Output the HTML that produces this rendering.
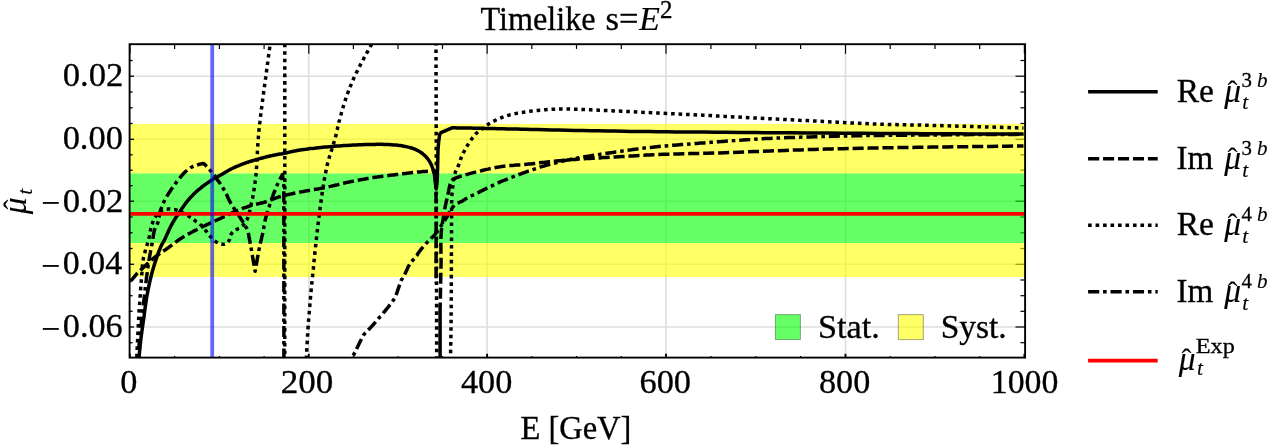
<!DOCTYPE html>
<html lang="en"><head><meta charset="utf-8"><title>Timelike s=E^2</title>
<style>html,body{margin:0;padding:0;background:#fff;}svg{display:block;}text{font-family:"Liberation Serif","DejaVu Serif",serif;fill:#000;}.i{font-style:italic;}text{stroke:#000;stroke-width:0.32px;}.i{stroke-width:0.12px;}.h{stroke:none;}</style></head><body>
<svg width="1270" height="448" viewBox="0 0 1270 448">
<rect width="1270" height="448" fill="#fff"/>
<defs><clipPath id="cp"><rect x="129.6" y="44.2" width="895.5" height="313.4"/></clipPath></defs>
<g stroke="#dedede" stroke-width="1.6" fill="none">
<line x1="308.8" y1="44.2" x2="308.8" y2="357.6"/>
<line x1="487.1" y1="44.2" x2="487.1" y2="357.6"/>
<line x1="666.0" y1="44.2" x2="666.0" y2="357.6"/>
<line x1="845.5" y1="44.2" x2="845.5" y2="357.6"/>
<line x1="129.6" y1="76.2" x2="1025.1" y2="76.2"/>
<line x1="129.6" y1="139.3" x2="1025.1" y2="139.3"/>
<line x1="129.6" y1="201.2" x2="1025.1" y2="201.2"/>
<line x1="129.6" y1="264.3" x2="1025.1" y2="264.3"/>
<line x1="129.6" y1="327.0" x2="1025.1" y2="327.0"/>
</g>
<g stroke="#000" stroke-width="1.2" fill="none">
<line x1="129.9" y1="44.2" x2="129.9" y2="53.8"/>
<line x1="129.9" y1="357.6" x2="129.9" y2="353.8" stroke-width="1.9"/>
<line x1="174.6" y1="44.2" x2="174.6" y2="48.9"/>
<line x1="174.6" y1="357.6" x2="174.6" y2="356.0"/>
<line x1="219.4" y1="44.2" x2="219.4" y2="48.9"/>
<line x1="219.4" y1="357.6" x2="219.4" y2="356.0"/>
<line x1="264.1" y1="44.2" x2="264.1" y2="48.9"/>
<line x1="264.1" y1="357.6" x2="264.1" y2="356.0"/>
<line x1="308.8" y1="44.2" x2="308.8" y2="53.8"/>
<line x1="308.8" y1="357.6" x2="308.8" y2="353.8" stroke-width="1.9"/>
<line x1="353.4" y1="44.2" x2="353.4" y2="48.9"/>
<line x1="353.4" y1="357.6" x2="353.4" y2="356.0"/>
<line x1="398.0" y1="44.2" x2="398.0" y2="48.9"/>
<line x1="398.0" y1="357.6" x2="398.0" y2="356.0"/>
<line x1="442.5" y1="44.2" x2="442.5" y2="48.9"/>
<line x1="442.5" y1="357.6" x2="442.5" y2="356.0"/>
<line x1="487.1" y1="44.2" x2="487.1" y2="53.8"/>
<line x1="487.1" y1="357.6" x2="487.1" y2="353.8" stroke-width="1.9"/>
<line x1="531.8" y1="44.2" x2="531.8" y2="48.9"/>
<line x1="531.8" y1="357.6" x2="531.8" y2="356.0"/>
<line x1="576.5" y1="44.2" x2="576.5" y2="48.9"/>
<line x1="576.5" y1="357.6" x2="576.5" y2="356.0"/>
<line x1="621.3" y1="44.2" x2="621.3" y2="48.9"/>
<line x1="621.3" y1="357.6" x2="621.3" y2="356.0"/>
<line x1="666.0" y1="44.2" x2="666.0" y2="53.8"/>
<line x1="666.0" y1="357.6" x2="666.0" y2="353.8" stroke-width="1.9"/>
<line x1="710.9" y1="44.2" x2="710.9" y2="48.9"/>
<line x1="710.9" y1="357.6" x2="710.9" y2="356.0"/>
<line x1="755.8" y1="44.2" x2="755.8" y2="48.9"/>
<line x1="755.8" y1="357.6" x2="755.8" y2="356.0"/>
<line x1="800.6" y1="44.2" x2="800.6" y2="48.9"/>
<line x1="800.6" y1="357.6" x2="800.6" y2="356.0"/>
<line x1="845.5" y1="44.2" x2="845.5" y2="53.8"/>
<line x1="845.5" y1="357.6" x2="845.5" y2="353.8" stroke-width="1.9"/>
<line x1="890.2" y1="44.2" x2="890.2" y2="48.9"/>
<line x1="890.2" y1="357.6" x2="890.2" y2="356.0"/>
<line x1="935.0" y1="44.2" x2="935.0" y2="48.9"/>
<line x1="935.0" y1="357.6" x2="935.0" y2="356.0"/>
<line x1="979.7" y1="44.2" x2="979.7" y2="48.9"/>
<line x1="979.7" y1="357.6" x2="979.7" y2="356.0"/>
<line x1="1024.4" y1="44.2" x2="1024.4" y2="53.8"/>
<line x1="1024.4" y1="357.6" x2="1024.4" y2="353.8" stroke-width="1.9"/>
<line x1="1025.1" y1="342.7" x2="1020.4" y2="342.7"/>
<line x1="1025.1" y1="327.0" x2="1015.5" y2="327.0"/>
<line x1="1025.1" y1="311.3" x2="1020.4" y2="311.3"/>
<line x1="1025.1" y1="295.7" x2="1020.4" y2="295.7"/>
<line x1="1025.1" y1="280.0" x2="1020.4" y2="280.0"/>
<line x1="1025.1" y1="264.3" x2="1015.5" y2="264.3"/>
<line x1="1025.1" y1="248.5" x2="1020.4" y2="248.5"/>
<line x1="1025.1" y1="232.8" x2="1020.4" y2="232.8"/>
<line x1="1025.1" y1="217.0" x2="1020.4" y2="217.0"/>
<line x1="1025.1" y1="201.2" x2="1015.5" y2="201.2"/>
<line x1="1025.1" y1="185.7" x2="1020.4" y2="185.7"/>
<line x1="1025.1" y1="170.2" x2="1020.4" y2="170.2"/>
<line x1="1025.1" y1="154.8" x2="1020.4" y2="154.8"/>
<line x1="1025.1" y1="139.3" x2="1015.5" y2="139.3"/>
<line x1="1025.1" y1="123.5" x2="1020.4" y2="123.5"/>
<line x1="1025.1" y1="107.8" x2="1020.4" y2="107.8"/>
<line x1="1025.1" y1="92.0" x2="1020.4" y2="92.0"/>
<line x1="1025.1" y1="76.2" x2="1015.5" y2="76.2"/>
<line x1="1025.1" y1="60.5" x2="1020.4" y2="60.5"/>
</g>
<g clip-path="url(#cp)">
<rect x="129.6" y="123.9" width="895.5" height="49.6" fill="#ffff00" fill-opacity="0.6"/>
<rect x="129.6" y="243.0" width="895.5" height="34.0" fill="#ffff00" fill-opacity="0.6"/>
<rect x="129.6" y="173.5" width="895.5" height="69.5" fill="#00ff00" fill-opacity="0.6"/>
<g fill="none" stroke="#000" stroke-width="3.5" stroke-linejoin="round">
<path d="M137.8 357.5 L138.1 354.4 L138.4 351.3 L138.8 348.2 L139.1 345.1 L139.4 342.0 L139.7 338.9 L140.0 335.8 L140.3 332.7 L140.7 329.6 L141.0 326.4 L141.3 323.2 L141.7 320.0 L142.1 316.4 L142.5 312.5 L143.0 308.6 L143.4 304.6 L143.9 300.5 L144.3 296.5 L144.8 292.5 L145.2 288.7 L145.6 285.1 L146.1 281.6 L146.4 278.5 L146.8 275.6 L147.0 274.1 L147.2 272.8 L147.3 271.5 L147.5 270.3 L147.6 269.2 L147.8 268.1 L147.9 267.1 L148.1 266.0 L148.2 264.9 L148.4 263.8 L148.6 262.6 L148.8 261.3 L149.1 259.6 L149.4 257.9 L149.7 256.1 L150.0 254.2 L150.4 252.3 L150.7 250.4 L151.1 248.5 L151.5 246.7 L151.8 244.9 L152.1 243.1 L152.4 241.5 L152.7 240.0 L152.9 239.0 L153.0 238.1 L153.1 237.2 L153.3 236.3 L153.4 235.5 L153.5 234.7 L153.6 233.9 L153.8 233.1 L153.9 232.3 L154.1 231.5 L154.3 230.8 L154.5 230.0 L154.7 229.3 L155.0 228.7 L155.3 228.0 L155.6 227.4 L155.9 226.8 L156.2 226.2 L156.5 225.6 L156.9 225.0 L157.2 224.3 L157.5 223.7 L157.7 223.0 L158.0 222.3 L158.3 221.4 L158.5 220.4 L158.8 219.4 L159.0 218.3 L159.2 217.2 L159.3 216.1 L159.5 215.0 L159.7 214.0 L159.9 212.9 L160.2 211.8 L160.4 210.8 L160.7 209.8 L161.0 208.9 L161.3 208.1 L161.6 207.2 L161.9 206.4 L162.2 205.6 L162.6 204.8 L162.9 204.0 L163.3 203.2 L163.6 202.4 L164.0 201.6 L164.4 200.8 L164.8 200.0 L165.2 199.2 L165.7 198.3 L166.1 197.5 L166.6 196.7 L167.1 195.9 L167.6 195.1 L168.1 194.3 L168.6 193.5 L169.1 192.7 L169.7 191.9 L170.2 191.1 L170.7 190.3 L171.2 189.5 L171.7 188.8 L172.2 188.0 L172.7 187.3 L173.2 186.6 L173.8 185.8 L174.3 185.1 L174.8 184.4 L175.3 183.7 L175.9 182.9 L176.4 182.2 L177.0 181.5 L177.6 180.7 L178.2 180.0 L178.8 179.2 L179.5 178.4 L180.1 177.6 L180.7 176.8 L181.4 176.0 L182.0 175.3 L182.7 174.5 L183.3 173.8 L184.0 173.1 L184.6 172.5 L185.1 172.0 L185.6 171.5 L186.2 171.0 L186.7 170.6 L187.2 170.2 L187.7 169.7 L188.3 169.3 L188.8 168.9 L189.3 168.6 L189.9 168.2 L190.4 167.8 L191.0 167.5 L191.6 167.2 L192.2 166.9 L192.8 166.6 L193.4 166.3 L194.1 166.1 L194.7 165.8 L195.4 165.6 L196.0 165.4 L196.6 165.2 L197.2 165.0 L197.8 164.8 L198.4 164.6 L198.8 164.5 L199.3 164.3 L199.7 164.2 L200.1 164.1 L200.5 164.0 L200.9 163.9 L201.2 163.9 L201.6 163.8 L202.0 163.7 L202.4 163.6 L202.8 163.5 L203.2 163.4 L203.2 163.4 L203.3 163.5 L203.5 163.6 L203.6 163.7 L203.8 163.8 L203.9 163.9 L204.1 164.0 L204.2 164.1 L204.3 164.2 L204.5 164.3 L204.7 164.4 L204.8 164.5 L205.0 164.7 L205.3 165.0 L205.7 165.4 L206.1 165.8 L206.5 166.2 L206.9 166.6 L207.4 167.1 L207.8 167.6 L208.3 168.1 L208.8 168.6 L209.3 169.2 L209.7 169.7 L210.2 170.3 L210.9 171.1 L211.6 172.0 L212.3 172.9 L213.0 173.8 L213.8 174.8 L214.6 175.8 L215.3 176.8 L216.1 177.9 L216.8 178.9 L217.5 179.9 L218.2 180.9 L218.9 181.8 L219.5 182.6 L220.0 183.4 L220.5 184.2 L221.1 185.0 L221.6 185.8 L222.1 186.6 L222.6 187.4 L223.1 188.2 L223.6 189.0 L224.0 189.8 L224.5 190.6 L225.0 191.5 L225.5 192.5 L226.0 193.4 L226.5 194.4 L227.0 195.4 L227.4 196.5 L227.9 197.5 L228.4 198.5 L228.9 199.6 L229.4 200.6 L229.9 201.6 L230.4 202.7 L231.0 203.7 L231.7 204.8 L232.3 205.9 L233.1 207.0 L233.8 208.1 L234.6 209.2 L235.3 210.3 L236.1 211.4 L236.9 212.6 L237.6 213.7 L238.4 214.8 L239.1 215.9 L239.8 217.0 L240.5 218.1 L241.2 219.2 L241.9 220.3 L242.6 221.4 L243.3 222.5 L243.9 223.6 L244.6 224.6 L245.2 225.7 L245.8 226.8 L246.4 227.9 L246.9 228.9 L247.3 230.0 L247.6 230.8 L247.9 231.7 L248.1 232.4 L248.3 233.2 L248.5 234.0 L248.6 234.7 L248.8 235.5 L248.9 236.3 L249.1 237.2 L249.2 238.1 L249.4 239.1 L249.6 240.1 L250.0 242.1 L250.4 244.3 L250.8 246.7 L251.3 249.2 L251.8 251.9 L252.2 254.6 L252.7 257.4 L253.2 260.3 L253.7 263.1 L254.2 265.9 L254.6 268.6 L255.1 271.3 L255.1 271.3 L255.5 269.2 L255.8 267.2 L256.2 265.1 L256.6 263.0 L257.0 260.9 L257.3 258.8 L257.7 256.7 L258.1 254.6 L258.5 252.6 L258.8 250.6 L259.2 248.7 L259.6 246.8 L259.9 245.3 L260.2 243.8 L260.6 242.3 L260.9 240.8 L261.3 239.4 L261.6 237.9 L261.9 236.5 L262.3 235.2 L262.6 233.8 L262.9 232.5 L263.1 231.2 L263.4 230.0 L263.6 229.1 L263.7 228.2 L263.9 227.4 L264.0 226.6 L264.1 225.8 L264.3 225.0 L264.4 224.2 L264.5 223.4 L264.7 222.6 L264.8 221.8 L265.0 220.9 L265.2 220.0 L265.5 218.8 L265.8 217.5 L266.2 216.2 L266.6 214.9 L267.0 213.5 L267.4 212.1 L267.8 210.7 L268.3 209.3 L268.7 207.9 L269.2 206.5 L269.6 205.1 L270.1 203.7 L270.6 202.2 L271.1 200.7 L271.7 199.2 L272.2 197.6 L272.8 196.1 L273.3 194.5 L273.9 193.0 L274.5 191.5 L275.1 190.0 L275.7 188.5 L276.2 187.1 L276.8 185.8 L277.3 184.8 L277.7 183.8 L278.2 182.8 L278.7 181.8 L279.1 180.9 L279.6 180.0 L280.1 179.1 L280.5 178.2 L281.0 177.3 L281.5 176.4 L281.9 175.5 L282.4 174.6 L282.4 174.6 L283.8 185.0 L283.9 359.0 L351.8 359.0 L351.8 358.5 L363.3 335.2 L363.3 335.2 L364.1 334.4 L364.8 333.6 L365.6 332.8 L366.4 332.0 L367.2 331.2 L367.9 330.3 L368.7 329.5 L369.5 328.7 L370.2 327.9 L371.0 327.2 L371.7 326.4 L372.4 325.6 L373.0 324.9 L373.6 324.3 L374.2 323.6 L374.7 323.0 L375.3 322.3 L375.8 321.7 L376.4 321.0 L376.9 320.4 L377.5 319.7 L378.0 319.1 L378.5 318.4 L379.1 317.8 L379.7 317.2 L380.2 316.5 L380.8 315.9 L381.3 315.3 L381.9 314.6 L382.4 314.0 L383.0 313.4 L383.5 312.7 L384.1 312.1 L384.7 311.4 L385.2 310.7 L385.8 310.0 L386.5 309.1 L387.3 308.2 L388.0 307.3 L388.8 306.3 L389.5 305.4 L390.3 304.4 L391.1 303.4 L391.8 302.4 L392.6 301.3 L393.3 300.2 L394.0 299.1 L394.6 298.0 L395.3 296.6 L395.9 295.1 L396.6 293.6 L397.2 291.9 L397.8 290.2 L398.3 288.6 L398.9 286.9 L399.4 285.3 L399.9 283.9 L400.4 282.5 L400.8 281.3 L401.3 280.3 L401.5 279.9 L401.7 279.5 L401.9 279.2 L402.1 278.9 L402.3 278.7 L402.5 278.4 L402.7 278.1 L402.8 277.9 L403.0 277.6 L403.2 277.3 L403.4 277.0 L403.6 276.7 L403.9 276.2 L404.2 275.6 L404.4 275.1 L404.7 274.4 L405.0 273.8 L405.3 273.2 L405.6 272.5 L405.9 271.9 L406.2 271.3 L406.5 270.7 L406.7 270.1 L407.0 269.5 L407.2 269.0 L407.4 268.6 L407.6 268.2 L407.8 267.7 L408.0 267.3 L408.2 266.9 L408.4 266.5 L408.6 266.1 L408.8 265.7 L409.0 265.3 L409.3 264.9 L409.5 264.5 L409.8 264.1 L410.0 263.7 L410.3 263.3 L410.6 262.9 L410.9 262.5 L411.2 262.2 L411.5 261.8 L411.8 261.4 L412.1 261.1 L412.4 260.7 L412.7 260.3 L413.0 260.0 L413.3 259.7 L413.5 259.4 L413.8 259.1 L414.0 258.9 L414.3 258.6 L414.5 258.3 L414.8 258.1 L415.0 257.8 L415.3 257.5 L415.5 257.2 L415.8 256.9 L416.0 256.6 L416.3 256.2 L416.5 255.8 L416.8 255.5 L417.1 255.1 L417.3 254.6 L417.6 254.2 L417.8 253.8 L418.1 253.4 L418.4 252.9 L418.7 252.5 L419.0 252.1 L419.3 251.6 L419.8 251.0 L420.3 250.3 L420.8 249.7 L421.4 249.0 L421.9 248.3 L422.5 247.6 L423.1 246.9 L423.7 246.2 L424.3 245.5 L424.9 244.8 L425.5 244.2 L426.0 243.6 L426.4 243.1 L426.9 242.7 L427.3 242.2 L427.7 241.8 L428.2 241.3 L428.6 240.9 L429.0 240.5 L429.4 240.1 L429.8 239.7 L430.2 239.3 L430.6 238.9 L431.0 238.5 L431.3 238.2 L431.7 237.8 L432.0 237.5 L432.3 237.2 L432.6 236.9 L433.0 236.6 L433.3 236.3 L433.6 236.0 L433.9 235.7 L434.2 235.4 L434.5 235.0 L434.8 234.7 L435.1 234.3 L435.4 233.9 L435.7 233.5 L436.0 233.1 L436.3 232.7 L436.6 232.3 L436.9 231.9 L437.3 231.5 L437.6 231.0 L437.9 230.5 L438.2 230.0 L438.6 229.5 L439.2 228.6 L439.8 227.7 L440.5 226.7 L441.3 225.6 L442.0 224.5 L442.8 223.4 L443.5 222.2 L444.3 221.1 L445.0 220.0 L445.7 218.9 L446.4 217.8 L447.0 216.8 L447.5 216.0 L447.9 215.2 L448.3 214.4 L448.8 213.6 L449.1 212.8 L449.5 212.0 L449.9 211.3 L450.3 210.5 L450.7 209.8 L451.1 209.1 L451.6 208.5 L452.0 207.9 L452.4 207.5 L452.7 207.0 L453.1 206.6 L453.5 206.3 L453.9 205.9 L454.3 205.5 L454.6 205.2 L455.0 204.9 L455.5 204.6 L455.9 204.3 L456.3 204.0 L456.7 203.7 L457.1 203.4 L457.5 203.2 L458.0 203.0 L458.4 202.8 L458.9 202.6 L459.3 202.4 L459.8 202.2 L460.3 202.0 L460.7 201.8 L461.1 201.6 L461.6 201.4 L462.0 201.2 L462.4 201.0 L462.7 200.8 L463.1 200.6 L463.4 200.4 L463.7 200.2 L464.0 199.9 L464.3 199.7 L464.7 199.5 L465.0 199.3 L465.4 199.0 L465.8 198.8 L466.3 198.5 L467.2 198.0 L468.3 197.4 L469.5 196.8 L470.7 196.2 L472.0 195.5 L473.4 194.9 L474.8 194.2 L476.2 193.5 L477.6 192.8 L479.1 192.1 L480.5 191.4 L481.9 190.7 L483.5 189.9 L485.1 189.1 L486.7 188.3 L488.4 187.5 L490.1 186.7 L491.8 185.9 L493.5 185.1 L495.2 184.3 L496.9 183.5 L498.6 182.7 L500.3 181.9 L502.0 181.2 L503.7 180.5 L505.4 179.8 L507.1 179.1 L508.8 178.4 L510.5 177.7 L512.2 177.1 L514.0 176.4 L515.6 175.8 L517.3 175.1 L518.9 174.5 L520.5 174.0 L522.0 173.4 L523.2 173.0 L524.3 172.6 L525.4 172.2 L526.5 171.8 L527.6 171.4 L528.7 171.0 L529.7 170.7 L530.8 170.3 L531.8 170.0 L532.9 169.6 L533.9 169.3 L535.0 168.9 L536.0 168.6 L537.0 168.2 L538.0 167.9 L539.0 167.6 L540.0 167.2 L540.9 166.9 L541.9 166.6 L542.9 166.3 L544.0 166.0 L545.0 165.7 L546.1 165.3 L547.3 165.0 L548.9 164.6 L550.6 164.1 L552.4 163.6 L554.2 163.2 L556.1 162.7 L558.0 162.2 L560.0 161.8 L561.9 161.3 L563.9 160.9 L565.8 160.4 L567.7 160.0 L569.6 159.6 L571.5 159.2 L573.3 158.8 L575.2 158.5 L577.1 158.1 L578.9 157.8 L580.8 157.5 L582.7 157.2 L584.5 156.8 L586.4 156.5 L588.3 156.2 L590.1 155.9 L592.0 155.6 L593.9 155.3 L595.7 155.0 L597.6 154.7 L599.5 154.4 L601.3 154.1 L603.2 153.8 L605.1 153.6 L606.9 153.3 L608.8 153.0 L610.6 152.7 L612.5 152.5 L614.3 152.2 L616.0 151.9 L617.8 151.7 L619.5 151.4 L621.2 151.2 L622.9 150.9 L624.6 150.7 L626.3 150.4 L628.0 150.2 L629.7 149.9 L631.5 149.7 L633.2 149.4 L635.0 149.2 L636.9 149.0 L638.8 148.7 L640.7 148.5 L642.6 148.3 L644.5 148.0 L646.4 147.8 L648.4 147.6 L650.4 147.4 L652.4 147.2 L654.5 146.9 L656.7 146.7 L659.0 146.5 L662.3 146.2 L665.8 145.9 L669.6 145.6 L673.4 145.2 L677.4 144.9 L681.5 144.6 L685.5 144.3 L689.4 144.0 L693.3 143.7 L696.9 143.4 L700.4 143.1 L703.6 142.9 L705.6 142.7 L707.5 142.6 L709.3 142.5 L711.0 142.3 L712.7 142.2 L714.3 142.1 L715.9 142.0 L717.6 141.8 L719.3 141.7 L721.1 141.6 L723.0 141.4 L725.0 141.3 L728.1 141.1 L731.5 140.8 L735.0 140.6 L738.7 140.3 L742.4 140.1 L746.3 139.8 L750.2 139.6 L754.1 139.3 L758.1 139.0 L762.0 138.8 L765.8 138.6 L769.6 138.4 L773.3 138.2 L777.0 138.1 L780.8 137.9 L784.5 137.8 L788.2 137.6 L791.9 137.5 L795.7 137.4 L799.4 137.2 L803.1 137.1 L806.8 137.0 L810.6 136.9 L814.3 136.8 L818.0 136.7 L821.6 136.6 L825.3 136.5 L828.9 136.4 L832.5 136.3 L836.1 136.2 L839.8 136.1 L843.5 136.0 L847.2 135.9 L851.0 135.9 L855.0 135.8 L859.0 135.7 L864.0 135.6 L869.1 135.5 L874.3 135.5 L879.6 135.4 L884.9 135.4 L890.4 135.3 L895.9 135.2 L901.5 135.2 L907.3 135.2 L913.1 135.1 L919.0 135.1 L925.0 135.0 L932.5 134.9 L940.3 134.9 L948.2 134.8 L956.4 134.8 L964.6 134.7 L973.0 134.6 L981.5 134.6 L989.9 134.5 L998.4 134.5 L1006.9 134.4 L1015.2 134.4 L1023.5 134.3" stroke-dasharray="3.6 3.88 11.1 3.85"/>
<path d="M136.8 357.5 L136.9 354.4 L137.1 351.2 L137.2 348.0 L137.4 344.8 L137.5 341.6 L137.7 338.4 L137.8 335.2 L138.0 332.0 L138.1 328.9 L138.3 325.9 L138.4 322.9 L138.6 320.0 L138.7 317.6 L138.9 315.2 L139.0 312.8 L139.2 310.5 L139.3 308.1 L139.5 305.9 L139.7 303.6 L139.8 301.4 L140.0 299.2 L140.1 297.1 L140.3 295.0 L140.4 293.0 L140.5 291.4 L140.6 289.9 L140.7 288.3 L140.8 286.9 L140.9 285.4 L141.1 284.0 L141.2 282.5 L141.3 281.1 L141.4 279.7 L141.5 278.4 L141.6 277.0 L141.7 275.6 L141.8 274.4 L141.9 273.1 L142.0 271.9 L142.0 270.7 L142.1 269.4 L142.2 268.2 L142.3 267.1 L142.4 265.9 L142.5 264.7 L142.6 263.6 L142.7 262.4 L142.9 261.3 L143.1 260.3 L143.2 259.3 L143.4 258.4 L143.6 257.4 L143.9 256.4 L144.1 255.5 L144.3 254.6 L144.5 253.7 L144.8 252.7 L145.0 251.8 L145.3 250.9 L145.5 250.0 L145.7 249.1 L146.0 248.3 L146.2 247.5 L146.5 246.7 L146.7 245.9 L147.0 245.1 L147.3 244.3 L147.5 243.4 L147.8 242.6 L148.0 241.8 L148.3 240.9 L148.5 240.0 L148.8 238.9 L149.0 237.8 L149.3 236.6 L149.5 235.4 L149.7 234.2 L149.9 232.9 L150.2 231.7 L150.4 230.5 L150.7 229.3 L150.9 228.1 L151.2 227.0 L151.5 226.0 L151.8 225.2 L152.0 224.4 L152.3 223.7 L152.5 222.9 L152.8 222.2 L153.1 221.5 L153.4 220.8 L153.6 220.1 L154.0 219.4 L154.3 218.8 L154.6 218.1 L155.0 217.5 L155.4 216.9 L155.7 216.4 L156.1 215.8 L156.5 215.2 L156.9 214.7 L157.3 214.2 L157.7 213.6 L158.1 213.2 L158.6 212.7 L159.0 212.3 L159.5 211.9 L160.0 211.5 L160.5 211.2 L160.9 210.9 L161.4 210.7 L161.9 210.5 L162.4 210.3 L162.9 210.1 L163.4 209.9 L163.9 209.8 L164.5 209.6 L165.0 209.5 L165.5 209.4 L166.0 209.3 L166.5 209.2 L167.0 209.2 L167.5 209.1 L168.0 209.1 L168.5 209.1 L169.0 209.1 L169.5 209.1 L170.0 209.1 L170.5 209.2 L171.0 209.2 L171.5 209.3 L172.0 209.3 L172.5 209.4 L173.0 209.4 L173.5 209.5 L174.0 209.6 L174.5 209.6 L175.0 209.7 L175.5 209.8 L176.0 209.9 L176.5 210.1 L177.0 210.2 L177.5 210.3 L178.0 210.5 L178.5 210.7 L179.0 210.9 L179.5 211.1 L180.0 211.4 L180.5 211.6 L181.0 211.9 L181.5 212.1 L182.0 212.4 L182.5 212.7 L183.0 213.0 L183.5 213.2 L184.0 213.5 L184.5 213.7 L184.9 214.0 L185.3 214.2 L185.8 214.5 L186.2 214.7 L186.7 214.9 L187.1 215.2 L187.5 215.4 L188.0 215.7 L188.4 215.9 L188.9 216.2 L189.3 216.5 L189.8 216.8 L190.3 217.2 L190.8 217.5 L191.3 217.9 L191.9 218.3 L192.4 218.7 L192.9 219.0 L193.4 219.4 L193.9 219.8 L194.5 220.2 L195.0 220.6 L195.5 221.0 L196.0 221.4 L196.5 221.8 L197.1 222.1 L197.6 222.5 L198.1 222.9 L198.6 223.3 L199.2 223.6 L199.7 224.0 L200.2 224.5 L200.7 224.9 L201.3 225.4 L201.8 225.9 L202.5 226.6 L203.3 227.5 L204.0 228.4 L204.7 229.3 L205.5 230.3 L206.3 231.3 L207.0 232.3 L207.7 233.3 L208.5 234.3 L209.2 235.2 L209.9 236.0 L210.6 236.8 L211.1 237.3 L211.6 237.8 L212.0 238.3 L212.5 238.8 L212.9 239.2 L213.4 239.7 L213.8 240.1 L214.3 240.5 L214.7 240.9 L215.2 241.2 L215.7 241.6 L216.2 241.9 L216.7 242.2 L217.2 242.5 L217.7 242.7 L218.3 243.0 L218.8 243.2 L219.4 243.4 L219.9 243.6 L220.4 243.8 L221.0 243.9 L221.5 244.1 L222.0 244.1 L222.5 244.2 L222.9 244.2 L223.3 244.2 L223.7 244.2 L224.1 244.2 L224.4 244.2 L224.8 244.1 L225.2 244.0 L225.5 244.0 L225.9 243.8 L226.2 243.7 L226.5 243.6 L226.8 243.4 L227.1 243.2 L227.3 243.0 L227.6 242.8 L227.8 242.5 L228.0 242.2 L228.2 241.9 L228.4 241.6 L228.6 241.3 L228.8 241.0 L229.0 240.7 L229.1 240.3 L229.3 240.0 L229.5 239.6 L229.6 239.2 L229.7 238.8 L229.8 238.4 L229.8 238.0 L229.9 237.5 L230.0 237.1 L230.0 236.6 L230.1 236.2 L230.3 235.8 L230.4 235.4 L230.6 235.0 L230.8 234.6 L231.1 234.2 L231.4 233.8 L231.7 233.4 L232.0 233.1 L232.3 232.7 L232.7 232.4 L233.1 232.0 L233.4 231.7 L233.8 231.3 L234.2 231.0 L234.6 230.7 L235.0 230.4 L235.5 230.1 L236.0 229.8 L236.5 229.5 L237.1 229.3 L237.6 229.1 L238.1 228.8 L238.7 228.5 L239.2 228.3 L239.7 228.0 L240.2 227.7 L240.7 227.3 L241.2 226.9 L241.7 226.4 L242.2 226.0 L242.8 225.5 L243.3 224.9 L243.7 224.4 L244.2 223.9 L244.7 223.3 L245.1 222.8 L245.5 222.2 L245.9 221.6 L246.3 221.0 L246.6 220.4 L247.0 219.8 L247.2 219.1 L247.5 218.5 L247.8 217.8 L248.0 217.1 L248.2 216.4 L248.4 215.7 L248.6 215.0 L248.8 214.4 L249.0 213.7 L249.2 213.0 L249.4 212.3 L249.6 211.7 L249.7 211.0 L249.9 210.3 L250.0 209.6 L250.2 209.0 L250.3 208.3 L250.4 207.6 L250.6 207.0 L250.7 206.3 L250.9 205.6 L251.0 205.0 L251.1 204.4 L251.3 203.8 L251.4 203.2 L251.5 202.7 L251.7 202.1 L251.8 201.6 L251.9 201.0 L252.1 200.4 L252.2 199.8 L252.3 199.2 L252.5 198.6 L252.6 198.0 L252.8 197.2 L252.9 196.5 L253.0 195.7 L253.2 194.9 L253.3 194.0 L253.5 193.2 L253.6 192.4 L253.8 191.5 L253.9 190.6 L254.0 189.8 L254.2 188.9 L254.3 188.0 L254.5 187.0 L254.6 185.9 L254.8 184.9 L254.9 183.8 L255.1 182.8 L255.2 181.7 L255.3 180.6 L255.5 179.4 L255.6 178.3 L255.7 177.1 L255.9 175.9 L256.0 174.6 L256.2 172.8 L256.3 170.9 L256.4 168.9 L256.6 166.9 L256.7 164.8 L256.8 162.6 L256.9 160.4 L257.0 158.3 L257.1 156.1 L257.3 154.0 L257.4 152.0 L257.5 150.0 L257.6 148.3 L257.7 146.6 L257.8 144.9 L257.9 143.3 L258.1 141.6 L258.2 140.0 L258.3 138.4 L258.4 136.8 L258.5 135.1 L258.7 133.4 L258.8 131.7 L259.0 130.0 L259.2 128.0 L259.4 126.0 L259.6 124.0 L259.9 122.0 L260.1 119.9 L260.4 117.8 L260.6 115.7 L260.9 113.6 L261.2 111.5 L261.4 109.3 L261.7 107.2 L262.0 105.0 L262.3 102.6 L262.6 100.2 L262.9 97.7 L263.3 95.2 L263.6 92.7 L263.9 90.2 L264.3 87.7 L264.6 85.2 L265.0 82.6 L265.3 80.1 L265.7 77.5 L266.0 75.0 L266.4 72.4 L266.7 69.7 L267.1 67.1 L267.4 64.4 L267.8 61.7 L268.1 59.1 L268.5 56.4 L268.9 53.7 L269.2 51.0 L269.6 48.3 L269.9 45.7 L270.3 43.0 L270.3 43.0 L284.8 43.0 L284.8 359.0 L306.3 359.0 L306.4 357.5 L306.5 354.9 L306.7 352.2 L306.8 349.6 L307.0 347.0 L307.1 344.3 L307.2 341.7 L307.4 339.1 L307.5 336.4 L307.7 333.8 L307.8 331.1 L308.0 328.5 L308.2 325.8 L308.4 323.0 L308.6 320.2 L308.8 317.3 L309.1 314.5 L309.3 311.6 L309.5 308.7 L309.8 305.9 L310.0 303.0 L310.3 300.2 L310.5 297.4 L310.8 294.7 L311.0 292.0 L311.2 289.6 L311.4 287.2 L311.7 284.9 L311.9 282.5 L312.1 280.2 L312.3 277.9 L312.6 275.7 L312.8 273.4 L313.0 271.2 L313.3 269.0 L313.5 266.8 L313.7 264.6 L313.9 262.7 L314.1 260.8 L314.3 258.9 L314.5 257.0 L314.7 255.1 L314.8 253.3 L315.0 251.5 L315.2 249.6 L315.4 247.8 L315.6 246.0 L315.8 244.2 L316.0 242.3 L316.2 240.4 L316.4 238.6 L316.6 236.7 L316.8 234.9 L317.0 233.0 L317.3 231.1 L317.5 229.3 L317.7 227.4 L317.9 225.6 L318.1 223.7 L318.4 221.9 L318.6 220.0 L318.8 218.2 L319.1 216.3 L319.3 214.5 L319.5 212.6 L319.8 210.8 L320.0 209.0 L320.2 207.1 L320.5 205.3 L320.7 203.5 L321.0 201.6 L321.2 199.8 L321.5 198.0 L321.8 196.2 L322.0 194.4 L322.3 192.6 L322.5 190.8 L322.8 189.0 L323.1 187.2 L323.4 185.5 L323.6 183.7 L323.9 182.0 L324.2 180.3 L324.5 178.6 L324.8 177.0 L325.1 175.7 L325.3 174.3 L325.6 173.0 L325.8 171.7 L326.1 170.5 L326.3 169.2 L326.6 168.0 L326.9 166.8 L327.1 165.6 L327.4 164.4 L327.7 163.2 L328.0 162.0 L328.3 160.9 L328.6 159.9 L328.8 158.9 L329.1 157.9 L329.4 156.9 L329.7 155.9 L330.1 155.0 L330.4 154.0 L330.7 153.0 L331.0 152.0 L331.3 151.0 L331.6 150.0 L331.9 148.9 L332.2 147.9 L332.6 146.8 L332.9 145.8 L333.2 144.8 L333.5 143.7 L333.9 142.6 L334.2 141.5 L334.5 140.4 L334.9 139.3 L335.2 138.2 L335.5 137.0 L335.9 135.6 L336.2 134.1 L336.6 132.6 L336.9 131.0 L337.3 129.4 L337.6 127.8 L338.0 126.2 L338.4 124.6 L338.8 123.0 L339.1 121.3 L339.6 119.7 L340.0 118.0 L340.5 116.1 L341.1 114.2 L341.6 112.2 L342.2 110.2 L342.8 108.2 L343.4 106.2 L344.0 104.2 L344.6 102.2 L345.3 100.2 L345.9 98.3 L346.5 96.4 L347.2 94.5 L347.8 92.9 L348.4 91.3 L349.0 89.7 L349.6 88.1 L350.2 86.6 L350.9 85.0 L351.5 83.5 L352.1 82.0 L352.8 80.5 L353.4 79.0 L354.1 77.5 L354.8 76.0 L355.5 74.5 L356.2 73.1 L356.9 71.7 L357.6 70.2 L358.3 68.8 L359.1 67.4 L359.8 66.0 L360.5 64.6 L361.3 63.2 L362.0 61.8 L362.8 60.4 L363.5 59.0 L364.2 57.6 L364.9 56.3 L365.7 55.0 L366.4 53.6 L367.1 52.3 L367.9 51.0 L368.6 49.6 L369.4 48.3 L370.1 47.0 L370.8 45.7 L371.6 44.3 L372.3 43.0 L372.3 43.0 L436.0 43.0 L436.7 359.0 L450.5 359.0 L450.5 357.5 L450.6 354.4 L450.6 351.4 L450.7 348.3 L450.7 345.3 L450.8 342.3 L450.8 339.3 L450.9 336.2 L450.9 333.1 L451.0 330.0 L451.0 326.8 L451.1 323.4 L451.1 320.0 L451.1 315.5 L451.2 310.7 L451.2 305.8 L451.2 300.7 L451.3 295.6 L451.3 290.3 L451.3 285.1 L451.3 279.9 L451.3 274.7 L451.4 269.7 L451.4 264.7 L451.4 260.0 L451.4 256.0 L451.4 251.9 L451.5 247.8 L451.5 243.8 L451.5 239.8 L451.5 235.8 L451.5 232.0 L451.5 228.3 L451.5 224.7 L451.6 221.3 L451.6 218.0 L451.6 215.0 L451.6 213.2 L451.6 211.5 L451.6 209.8 L451.6 208.3 L451.6 206.7 L451.6 205.3 L451.6 203.8 L451.6 202.4 L451.7 201.1 L451.7 199.7 L451.7 198.3 L451.8 197.0 L451.9 195.9 L451.9 194.9 L452.0 193.8 L452.1 192.8 L452.2 191.8 L452.3 190.8 L452.4 189.9 L452.5 188.9 L452.6 187.9 L452.7 187.0 L452.9 186.0 L453.0 185.0 L453.1 184.0 L453.3 183.0 L453.4 182.0 L453.5 181.0 L453.7 179.9 L453.8 178.9 L454.0 177.9 L454.1 176.9 L454.3 176.0 L454.5 175.0 L454.7 174.1 L455.0 173.2 L455.2 172.5 L455.5 171.8 L455.8 171.1 L456.1 170.4 L456.4 169.7 L456.7 169.1 L457.1 168.5 L457.4 167.8 L457.7 167.2 L458.0 166.5 L458.3 165.9 L458.6 165.2 L458.9 164.5 L459.1 163.8 L459.4 163.1 L459.6 162.5 L459.8 161.8 L460.1 161.1 L460.3 160.4 L460.5 159.7 L460.7 159.0 L461.0 158.3 L461.2 157.7 L461.5 157.0 L461.8 156.4 L462.0 155.8 L462.3 155.2 L462.5 154.6 L462.8 154.1 L463.0 153.5 L463.3 152.9 L463.6 152.4 L463.9 151.8 L464.2 151.2 L464.5 150.6 L464.8 150.0 L465.2 149.2 L465.7 148.4 L466.1 147.6 L466.6 146.8 L467.1 145.9 L467.6 145.1 L468.2 144.2 L468.7 143.3 L469.2 142.5 L469.8 141.7 L470.3 140.9 L470.9 140.1 L471.4 139.4 L472.0 138.6 L472.5 137.9 L473.1 137.2 L473.7 136.5 L474.3 135.7 L474.8 135.1 L475.4 134.4 L476.0 133.7 L476.7 133.1 L477.3 132.5 L477.9 131.9 L478.5 131.4 L479.1 130.9 L479.8 130.4 L480.4 130.0 L481.1 129.5 L481.8 129.1 L482.4 128.7 L483.1 128.3 L483.7 127.9 L484.3 127.5 L484.8 127.2 L485.3 126.8 L485.6 126.6 L485.9 126.3 L486.1 126.1 L486.3 125.9 L486.5 125.7 L486.7 125.5 L486.9 125.3 L487.2 125.1 L487.4 124.9 L487.7 124.7 L488.0 124.4 L488.3 124.2 L489.1 123.7 L489.9 123.2 L490.9 122.6 L492.0 122.1 L493.1 121.5 L494.3 120.9 L495.5 120.3 L496.7 119.7 L497.9 119.1 L499.2 118.6 L500.4 118.1 L501.5 117.6 L502.6 117.2 L503.7 116.8 L504.8 116.4 L505.9 116.1 L507.0 115.7 L508.2 115.4 L509.3 115.1 L510.4 114.8 L511.5 114.6 L512.6 114.3 L513.7 114.0 L514.7 113.8 L515.6 113.6 L516.4 113.4 L517.3 113.2 L518.1 113.1 L518.9 112.9 L519.7 112.8 L520.5 112.7 L521.3 112.5 L522.2 112.4 L523.1 112.3 L524.0 112.1 L525.0 112.0 L526.6 111.8 L528.2 111.6 L530.0 111.3 L531.8 111.1 L533.7 110.9 L535.6 110.7 L537.6 110.5 L539.5 110.2 L541.5 110.1 L543.5 109.9 L545.4 109.7 L547.3 109.6 L549.1 109.5 L550.9 109.4 L552.7 109.3 L554.4 109.2 L556.2 109.2 L558.0 109.1 L559.8 109.1 L561.6 109.1 L563.5 109.1 L565.4 109.1 L567.5 109.1 L569.6 109.1 L572.8 109.1 L576.2 109.2 L579.7 109.3 L583.4 109.5 L587.1 109.6 L591.0 109.8 L594.9 110.0 L598.8 110.2 L602.8 110.4 L606.7 110.5 L610.5 110.7 L614.3 110.9 L618.0 111.1 L621.8 111.2 L625.5 111.4 L629.2 111.6 L632.9 111.8 L636.7 112.0 L640.4 112.2 L644.1 112.4 L647.8 112.5 L651.6 112.7 L655.3 112.9 L659.0 113.1 L662.8 113.3 L666.6 113.5 L670.5 113.6 L674.5 113.8 L678.4 114.0 L682.3 114.2 L686.2 114.4 L689.9 114.5 L693.6 114.7 L697.1 114.9 L700.5 115.0 L703.6 115.2 L705.6 115.3 L707.4 115.4 L709.2 115.5 L710.8 115.6 L712.3 115.7 L713.9 115.8 L715.4 115.9 L717.1 116.0 L718.8 116.1 L720.7 116.2 L722.7 116.3 L725.0 116.4 L730.3 116.7 L736.5 117.0 L743.3 117.4 L750.7 117.8 L758.6 118.2 L766.7 118.6 L775.0 119.0 L783.3 119.4 L791.5 119.8 L799.5 120.3 L807.1 120.6 L814.3 121.0 L820.2 121.3 L826.0 121.6 L831.7 121.9 L837.4 122.2 L843.0 122.5 L848.6 122.8 L854.0 123.1 L859.4 123.3 L864.7 123.6 L869.9 123.8 L875.0 124.0 L880.0 124.2 L884.0 124.3 L887.8 124.4 L891.4 124.5 L895.0 124.6 L898.5 124.7 L901.9 124.7 L905.4 124.8 L909.0 124.9 L912.7 124.9 L916.6 125.0 L920.7 125.1 L925.0 125.2 L931.9 125.4 L939.2 125.6 L946.9 125.8 L955.0 126.0 L963.3 126.3 L971.9 126.5 L980.5 126.8 L989.3 127.0 L998.0 127.3 L1006.6 127.5 L1015.2 127.8 L1023.5 128.0" stroke-dasharray="3.6 3.88"/>
<path d="M130.0 281.0 L130.1 280.9 L130.3 280.8 L130.4 280.7 L130.5 280.6 L130.7 280.6 L130.8 280.5 L130.9 280.4 L131.1 280.3 L131.2 280.2 L131.4 280.1 L131.5 279.9 L131.7 279.8 L132.1 279.4 L132.5 279.0 L132.9 278.5 L133.3 278.0 L133.8 277.4 L134.3 276.8 L134.8 276.2 L135.3 275.6 L135.8 275.0 L136.3 274.4 L136.8 273.8 L137.3 273.3 L137.8 272.8 L138.2 272.4 L138.6 272.0 L139.1 271.5 L139.5 271.1 L140.0 270.7 L140.4 270.3 L140.9 269.9 L141.4 269.4 L141.8 269.0 L142.4 268.5 L142.9 268.0 L143.7 267.3 L144.5 266.5 L145.3 265.7 L146.2 264.9 L147.1 264.0 L148.1 263.1 L149.0 262.2 L150.0 261.4 L151.0 260.5 L152.0 259.6 L153.0 258.7 L154.0 257.9 L155.2 257.0 L156.5 256.0 L157.8 255.0 L159.1 254.1 L160.5 253.1 L161.9 252.2 L163.2 251.2 L164.6 250.3 L165.9 249.4 L167.2 248.5 L168.4 247.6 L169.6 246.8 L170.4 246.2 L171.2 245.6 L172.0 245.0 L172.8 244.4 L173.5 243.8 L174.2 243.2 L175.0 242.7 L175.7 242.1 L176.4 241.6 L177.1 241.1 L177.8 240.5 L178.6 240.0 L179.3 239.5 L180.0 239.0 L180.7 238.6 L181.4 238.1 L182.2 237.7 L182.9 237.2 L183.6 236.8 L184.3 236.3 L185.1 235.9 L185.9 235.4 L186.7 235.0 L187.5 234.5 L188.6 233.9 L189.9 233.2 L191.1 232.5 L192.5 231.8 L193.8 231.1 L195.2 230.4 L196.5 229.8 L197.9 229.1 L199.3 228.4 L200.6 227.7 L201.9 227.1 L203.1 226.5 L204.1 226.0 L205.1 225.5 L206.0 225.1 L207.0 224.6 L207.9 224.2 L208.8 223.8 L209.7 223.3 L210.6 222.9 L211.6 222.5 L212.5 222.1 L213.4 221.6 L214.3 221.2 L215.2 220.8 L216.1 220.4 L217.0 220.0 L217.9 219.6 L218.8 219.2 L219.6 218.8 L220.5 218.4 L221.4 218.0 L222.3 217.5 L223.2 217.1 L224.1 216.7 L225.0 216.3 L225.9 215.9 L226.9 215.4 L227.8 214.9 L228.8 214.5 L229.7 214.0 L230.7 213.5 L231.6 213.1 L232.6 212.6 L233.6 212.1 L234.6 211.7 L235.6 211.2 L236.6 210.8 L237.7 210.3 L238.9 209.9 L240.0 209.4 L241.2 209.0 L242.3 208.5 L243.5 208.1 L244.7 207.7 L245.9 207.3 L247.1 206.9 L248.3 206.5 L249.5 206.1 L250.7 205.7 L251.9 205.3 L253.1 205.0 L254.2 204.7 L255.4 204.4 L256.6 204.1 L257.8 203.9 L259.0 203.6 L260.2 203.3 L261.4 203.0 L262.6 202.7 L263.8 202.4 L265.0 202.0 L266.3 201.6 L267.6 201.1 L268.9 200.7 L270.3 200.2 L271.6 199.7 L272.9 199.2 L274.3 198.7 L275.6 198.2 L277.0 197.7 L278.4 197.2 L279.8 196.7 L281.3 196.3 L283.0 195.8 L284.8 195.4 L286.6 194.9 L288.5 194.5 L290.3 194.1 L292.2 193.7 L294.1 193.3 L296.1 192.9 L298.0 192.5 L299.9 192.1 L301.7 191.8 L303.6 191.4 L305.4 191.1 L307.2 190.7 L309.0 190.4 L310.7 190.1 L312.5 189.8 L314.3 189.5 L316.1 189.2 L317.9 188.9 L319.6 188.6 L321.4 188.3 L323.2 188.0 L325.0 187.6 L326.8 187.2 L328.7 186.8 L330.5 186.4 L332.4 185.9 L334.3 185.5 L336.1 185.0 L338.0 184.6 L339.8 184.1 L341.7 183.7 L343.6 183.2 L345.4 182.8 L347.3 182.4 L349.2 182.0 L351.0 181.6 L352.9 181.3 L354.7 180.9 L356.6 180.5 L358.4 180.2 L360.3 179.8 L362.2 179.5 L364.0 179.2 L365.9 178.8 L367.7 178.5 L369.6 178.2 L371.5 177.9 L373.3 177.6 L375.2 177.3 L377.1 177.1 L378.9 176.8 L380.8 176.6 L382.7 176.3 L384.5 176.1 L386.4 175.8 L388.3 175.6 L390.1 175.3 L392.0 175.1 L393.9 174.9 L395.8 174.6 L397.7 174.4 L399.6 174.1 L401.5 173.9 L403.4 173.7 L405.3 173.4 L407.2 173.2 L409.0 173.0 L410.8 172.8 L412.6 172.6 L414.3 172.4 L415.7 172.3 L417.2 172.1 L418.6 172.0 L420.1 171.9 L421.5 171.7 L422.9 171.6 L424.3 171.5 L425.6 171.4 L426.8 171.3 L428.0 171.2 L429.0 171.1 L430.0 171.0 L430.5 171.0 L430.9 170.9 L431.3 170.9 L431.7 170.8 L432.1 170.8 L432.4 170.7 L432.8 170.7 L433.1 170.7 L433.4 170.6 L433.8 170.6 L434.1 170.5 L434.5 170.5" stroke-dasharray="11.1 3.85"/>
<path d="M434.8 171.5 L435.7 185.0 L436.1 200.0 L436.1 283.0" stroke-dasharray="11.1 3.85" stroke-dashoffset="8.99"/>
<path d="M440.2 306.0 L440.9 270.0 L441.1 262.0 L440.8 240.0 L440.8 240.0 L440.9 239.2 L440.9 238.4 L440.9 237.6 L441.0 236.8 L441.0 236.1 L441.1 235.3 L441.1 234.5 L441.2 233.7 L441.2 232.8 L441.3 231.9 L441.4 231.0 L441.5 230.0 L441.7 228.3 L442.0 226.3 L442.3 224.2 L442.6 222.0 L443.0 219.7 L443.3 217.4 L443.7 215.0 L444.1 212.7 L444.5 210.6 L444.8 208.5 L445.2 206.6 L445.5 205.0 L445.7 204.1 L445.9 203.3 L446.0 202.6 L446.2 201.9 L446.4 201.2 L446.5 200.5 L446.7 199.9 L446.9 199.3 L447.0 198.6 L447.2 198.0 L447.3 197.4 L447.5 196.7 L447.6 196.0 L447.8 195.4 L447.9 194.8 L448.0 194.1 L448.1 193.5 L448.2 192.8 L448.3 192.2 L448.5 191.6 L448.6 190.9 L448.7 190.3 L448.8 189.6 L449.0 189.0 L449.2 188.3 L449.3 187.6 L449.5 186.9 L449.6 186.1 L449.8 185.4 L450.0 184.7 L450.1 184.0 L450.4 183.3 L450.6 182.6 L450.8 182.0 L451.1 181.5 L451.4 181.0 L451.6 180.7 L451.9 180.4 L452.1 180.1 L452.4 179.9 L452.7 179.7 L453.0 179.5 L453.3 179.3 L453.6 179.1 L453.9 179.0 L454.3 178.8 L454.6 178.6 L455.0 178.4 L455.5 178.1 L456.1 177.9 L456.7 177.6 L457.3 177.4 L457.9 177.2 L458.6 176.9 L459.3 176.7 L460.0 176.5 L460.8 176.2 L461.6 176.0 L462.4 175.8 L463.2 175.5 L464.7 175.1 L466.2 174.6 L467.9 174.1 L469.7 173.6 L471.6 173.1 L473.5 172.6 L475.5 172.1 L477.5 171.6 L479.4 171.1 L481.3 170.7 L483.2 170.2 L485.0 169.8 L486.6 169.4 L488.2 169.1 L489.7 168.7 L491.2 168.4 L492.8 168.1 L494.3 167.8 L495.8 167.5 L497.3 167.2 L498.9 166.9 L500.4 166.7 L502.0 166.4 L503.6 166.2 L505.3 166.0 L507.1 165.8 L508.8 165.6 L510.6 165.5 L512.4 165.4 L514.2 165.3 L516.0 165.1 L517.8 165.0 L519.6 164.9 L521.4 164.8 L523.2 164.7 L525.0 164.5 L526.8 164.3 L528.7 164.1 L530.5 163.9 L532.4 163.7 L534.3 163.5 L536.1 163.3 L538.0 163.1 L539.8 162.8 L541.7 162.6 L543.6 162.4 L545.4 162.2 L547.3 162.0 L549.2 161.8 L551.0 161.6 L552.9 161.4 L554.7 161.2 L556.6 161.0 L558.4 160.8 L560.3 160.7 L562.2 160.5 L564.0 160.3 L565.9 160.1 L567.7 160.0 L569.6 159.8 L571.5 159.6 L573.3 159.5 L575.2 159.4 L577.1 159.2 L578.9 159.1 L580.8 159.0 L582.7 158.9 L584.5 158.8 L586.4 158.6 L588.3 158.5 L590.1 158.4 L592.0 158.3 L593.9 158.2 L595.7 158.1 L597.6 158.0 L599.5 157.9 L601.3 157.7 L603.2 157.6 L605.1 157.5 L606.9 157.4 L608.8 157.3 L610.6 157.2 L612.5 157.1 L614.3 157.0 L616.0 156.9 L617.8 156.8 L619.5 156.7 L621.2 156.6 L622.9 156.5 L624.6 156.4 L626.3 156.3 L628.0 156.2 L629.7 156.1 L631.5 156.0 L633.2 155.9 L635.0 155.8 L636.9 155.7 L638.8 155.6 L640.6 155.5 L642.4 155.4 L644.3 155.3 L646.1 155.1 L648.1 155.0 L650.1 154.9 L652.1 154.8 L654.3 154.7 L656.6 154.6 L659.0 154.5 L663.3 154.3 L668.0 154.2 L673.0 154.0 L678.2 153.9 L683.7 153.8 L689.3 153.6 L695.1 153.5 L701.1 153.4 L707.0 153.2 L713.0 153.1 L719.0 152.9 L725.0 152.7 L732.0 152.5 L739.3 152.2 L746.7 151.9 L754.3 151.6 L761.9 151.3 L769.7 151.0 L777.4 150.7 L785.0 150.4 L792.6 150.1 L800.1 149.9 L807.3 149.6 L814.3 149.4 L820.2 149.2 L826.0 149.1 L831.7 148.9 L837.4 148.8 L843.0 148.7 L848.6 148.5 L854.0 148.4 L859.4 148.3 L864.7 148.2 L869.9 148.1 L875.0 148.0 L880.0 147.9 L884.0 147.8 L887.8 147.8 L891.4 147.7 L895.0 147.6 L898.5 147.6 L901.9 147.5 L905.4 147.5 L909.0 147.4 L912.7 147.4 L916.6 147.3 L920.7 147.3 L925.0 147.2 L931.9 147.1 L939.2 147.0 L946.9 146.9 L955.0 146.8 L963.3 146.7 L971.9 146.6 L980.5 146.5 L989.3 146.4 L998.0 146.3 L1006.6 146.2 L1015.2 146.1 L1023.5 146.0" stroke-dasharray="11.1 3.85" stroke-dashoffset="7.67"/>
<path d="M440.1 305 L440.1 359"/>
<path d="M139.0 357.5 L139.2 355.9 L139.3 354.2 L139.5 352.6 L139.6 351.0 L139.8 349.3 L140.0 347.7 L140.1 346.1 L140.3 344.4 L140.5 342.8 L140.6 341.2 L140.8 339.6 L141.0 338.0 L141.2 336.5 L141.4 335.0 L141.6 333.5 L141.8 332.1 L142.0 330.6 L142.2 329.2 L142.4 327.7 L142.6 326.2 L142.8 324.7 L143.0 323.2 L143.3 321.6 L143.5 320.0 L143.8 318.0 L144.1 315.9 L144.3 313.8 L144.6 311.7 L144.9 309.5 L145.2 307.2 L145.5 305.0 L145.9 302.8 L146.2 300.5 L146.5 298.3 L146.9 296.1 L147.3 294.0 L147.7 291.9 L148.1 289.8 L148.5 287.8 L148.9 285.7 L149.4 283.7 L149.8 281.6 L150.3 279.6 L150.8 277.5 L151.3 275.5 L151.8 273.5 L152.3 271.5 L152.9 269.5 L153.5 267.5 L154.1 265.5 L154.7 263.5 L155.4 261.4 L156.1 259.4 L156.8 257.3 L157.5 255.4 L158.1 253.5 L158.8 251.7 L159.5 250.0 L160.1 248.4 L160.7 247.0 L161.0 246.3 L161.3 245.6 L161.6 245.0 L161.9 244.5 L162.2 243.9 L162.5 243.4 L162.8 242.9 L163.1 242.4 L163.4 241.9 L163.7 241.3 L164.1 240.7 L164.4 240.0 L164.9 238.9 L165.5 237.7 L166.1 236.4 L166.7 235.1 L167.3 233.7 L168.0 232.3 L168.6 230.8 L169.3 229.4 L170.0 228.0 L170.6 226.6 L171.3 225.3 L172.0 224.0 L172.6 222.9 L173.3 221.8 L173.9 220.7 L174.6 219.6 L175.3 218.6 L175.9 217.5 L176.6 216.5 L177.3 215.5 L178.0 214.5 L178.7 213.5 L179.3 212.5 L180.0 211.5 L180.6 210.6 L181.2 209.7 L181.8 208.8 L182.5 207.9 L183.1 207.0 L183.7 206.1 L184.3 205.2 L184.9 204.4 L185.5 203.5 L186.2 202.7 L186.8 201.8 L187.5 201.0 L188.2 200.2 L188.8 199.4 L189.5 198.6 L190.2 197.8 L190.9 197.1 L191.6 196.3 L192.4 195.6 L193.1 194.8 L193.8 194.1 L194.5 193.4 L195.3 192.7 L196.0 192.0 L196.7 191.4 L197.4 190.7 L198.1 190.1 L198.8 189.5 L199.6 188.9 L200.3 188.3 L201.0 187.8 L201.7 187.2 L202.4 186.6 L203.2 186.1 L203.9 185.5 L204.6 185.0 L205.3 184.5 L205.9 184.0 L206.6 183.6 L207.2 183.1 L207.8 182.7 L208.5 182.2 L209.1 181.8 L209.8 181.3 L210.4 180.9 L211.1 180.5 L211.8 180.0 L212.5 179.6 L213.3 179.1 L214.1 178.6 L214.9 178.2 L215.7 177.7 L216.6 177.2 L217.4 176.8 L218.3 176.3 L219.1 175.9 L220.0 175.4 L220.8 174.9 L221.7 174.5 L222.5 174.0 L223.3 173.5 L224.1 173.1 L224.9 172.6 L225.7 172.1 L226.4 171.7 L227.2 171.2 L228.0 170.7 L228.8 170.3 L229.6 169.8 L230.4 169.4 L231.2 168.9 L232.1 168.5 L233.1 168.0 L234.1 167.6 L235.1 167.1 L236.1 166.6 L237.2 166.2 L238.2 165.8 L239.3 165.3 L240.4 164.9 L241.4 164.5 L242.5 164.1 L243.6 163.7 L244.6 163.3 L245.6 162.9 L246.6 162.6 L247.6 162.3 L248.6 161.9 L249.6 161.6 L250.6 161.3 L251.6 161.0 L252.6 160.7 L253.6 160.4 L254.6 160.1 L255.7 159.8 L256.7 159.5 L257.8 159.2 L258.9 158.9 L260.0 158.6 L261.1 158.3 L262.2 158.0 L263.3 157.7 L264.4 157.4 L265.5 157.1 L266.6 156.8 L267.7 156.5 L268.9 156.3 L270.0 156.0 L271.2 155.7 L272.4 155.5 L273.6 155.2 L274.8 155.0 L276.0 154.8 L277.2 154.6 L278.5 154.3 L279.7 154.1 L280.9 153.9 L282.1 153.7 L283.4 153.4 L284.6 153.2 L285.9 152.9 L287.1 152.7 L288.3 152.4 L289.6 152.1 L290.8 151.8 L292.0 151.6 L293.3 151.3 L294.6 151.0 L295.9 150.8 L297.2 150.5 L298.6 150.2 L300.0 150.0 L301.9 149.7 L303.8 149.4 L305.8 149.2 L307.9 148.9 L310.0 148.6 L312.2 148.4 L314.4 148.2 L316.5 147.9 L318.7 147.7 L320.8 147.5 L322.9 147.3 L325.0 147.1 L326.9 146.9 L328.8 146.7 L330.7 146.6 L332.5 146.4 L334.4 146.3 L336.2 146.1 L338.1 146.0 L339.9 145.9 L341.8 145.7 L343.6 145.6 L345.4 145.5 L347.3 145.4 L349.2 145.3 L351.1 145.2 L353.0 145.1 L354.9 145.0 L356.8 144.9 L358.7 144.8 L360.6 144.8 L362.5 144.7 L364.3 144.6 L366.1 144.6 L367.9 144.5 L369.6 144.5 L371.0 144.5 L372.3 144.4 L373.6 144.4 L374.9 144.4 L376.2 144.3 L377.4 144.3 L378.7 144.3 L379.9 144.3 L381.2 144.3 L382.4 144.3 L383.7 144.4 L385.0 144.4 L386.4 144.5 L387.8 144.5 L389.2 144.6 L390.6 144.7 L392.0 144.8 L393.5 144.9 L394.9 145.0 L396.3 145.1 L397.7 145.2 L399.1 145.4 L400.4 145.6 L401.7 145.8 L402.8 146.0 L403.9 146.2 L405.1 146.4 L406.2 146.6 L407.2 146.9 L408.3 147.1 L409.4 147.4 L410.4 147.7 L411.4 148.0 L412.4 148.3 L413.4 148.6 L414.3 149.0 L415.1 149.3 L415.9 149.7 L416.7 150.0 L417.4 150.4 L418.2 150.8 L418.9 151.2 L419.6 151.6 L420.3 152.1 L421.0 152.5 L421.7 153.0 L422.4 153.5 L423.0 154.0 L423.6 154.5 L424.2 155.1 L424.8 155.6 L425.4 156.2 L426.0 156.8 L426.5 157.4 L427.1 158.0 L427.6 158.7 L428.1 159.3 L428.6 160.0 L429.1 160.7 L429.5 161.4 L429.9 162.1 L430.4 162.9 L430.8 163.7 L431.2 164.5 L431.5 165.3 L431.9 166.1 L432.2 167.0 L432.5 167.8 L432.8 168.7 L433.1 169.6 L433.3 170.4 L433.6 171.3 L433.8 172.2 L434.1 173.2 L434.3 174.2 L434.5 175.2 L434.6 176.3 L434.8 177.3 L434.9 178.3 L435.0 179.3 L435.2 180.3 L435.3 181.3 L435.4 182.2 L435.5 183.0 L435.6 183.6 L435.6 184.1 L435.7 184.6 L435.8 185.1 L435.8 185.6 L435.9 186.1 L435.9 186.6 L436.0 187.1 L436.0 187.5 L436.1 188.0 L436.1 188.5 L436.2 189.0 L436.2 189.0 L437.1 182.0 L437.6 168.0 L438.0 150.0 L438.6 142.3 L439.7 134.5 L441.0 132.6 L452.0 127.8 L452.0 127.8 L454.7 127.8 L457.5 127.9 L460.2 127.9 L462.9 128.0 L465.6 128.0 L468.3 128.1 L471.0 128.1 L473.8 128.2 L476.5 128.2 L479.3 128.3 L482.1 128.3 L485.0 128.4 L488.1 128.5 L491.3 128.5 L494.4 128.6 L497.5 128.7 L500.6 128.7 L503.8 128.8 L507.0 128.9 L510.4 129.0 L513.8 129.1 L517.4 129.1 L521.1 129.2 L525.0 129.3 L531.2 129.4 L537.7 129.6 L544.6 129.7 L551.8 129.9 L559.2 130.0 L566.8 130.2 L574.6 130.4 L582.5 130.5 L590.5 130.7 L598.5 130.8 L606.4 131.0 L614.3 131.1 L623.0 131.2 L631.7 131.4 L640.4 131.5 L649.1 131.6 L657.9 131.7 L666.9 131.8 L676.0 131.9 L685.3 131.9 L694.8 132.0 L704.5 132.1 L714.6 132.2 L725.0 132.3 L739.8 132.4 L755.7 132.6 L772.5 132.7 L789.9 132.8 L807.7 133.0 L825.7 133.1 L843.7 133.2 L861.4 133.3 L878.6 133.4 L895.0 133.5 L910.6 133.6 L925.0 133.7 L934.4 133.7 L943.4 133.8 L952.1 133.8 L960.4 133.8 L968.5 133.9 L976.4 133.9 L984.2 133.9 L991.9 133.9 L999.7 133.9 L1007.5 134.0 L1015.4 134.0 L1023.5 134.0"/>
</g>
<line x1="129.6" y1="213.9" x2="1025.1" y2="213.9" stroke="#ff0000" stroke-width="3.8"/>
<line x1="212.2" y1="44.2" x2="212.2" y2="357.6" stroke="#0000ff" stroke-opacity="0.6" stroke-width="3.8"/>
</g>
<g stroke="#000" stroke-width="1.3" fill="none"><line x1="129.6" y1="342.7" x2="132.6" y2="342.7"/><line x1="129.6" y1="327.0" x2="134.0" y2="327.0"/><line x1="129.6" y1="311.3" x2="132.6" y2="311.3"/><line x1="129.6" y1="295.7" x2="132.6" y2="295.7"/><line x1="129.6" y1="280.0" x2="132.6" y2="280.0"/><line x1="129.6" y1="264.3" x2="134.0" y2="264.3"/><line x1="129.6" y1="248.5" x2="132.6" y2="248.5"/><line x1="129.6" y1="232.8" x2="132.6" y2="232.8"/><line x1="129.6" y1="217.0" x2="132.6" y2="217.0"/><line x1="129.6" y1="201.2" x2="134.0" y2="201.2"/><line x1="129.6" y1="185.7" x2="132.6" y2="185.7"/><line x1="129.6" y1="170.2" x2="132.6" y2="170.2"/><line x1="129.6" y1="154.8" x2="132.6" y2="154.8"/><line x1="129.6" y1="139.3" x2="134.0" y2="139.3"/><line x1="129.6" y1="123.5" x2="132.6" y2="123.5"/><line x1="129.6" y1="107.8" x2="132.6" y2="107.8"/><line x1="129.6" y1="92.0" x2="132.6" y2="92.0"/><line x1="129.6" y1="76.2" x2="134.0" y2="76.2"/><line x1="129.6" y1="60.5" x2="132.6" y2="60.5"/></g>
<rect x="129.6" y="44.2" width="895.5" height="313.4" fill="none" stroke="#000" stroke-width="1.9"/>
<rect x="775.4" y="314.6" width="25" height="25" fill="#00ff00" fill-opacity="0.6" stroke="#000" stroke-opacity="0.35" stroke-width="1"/>
<rect x="898.3" y="314.6" width="25" height="25" fill="#ffff00" fill-opacity="0.6" stroke="#000" stroke-opacity="0.35" stroke-width="1"/>
<line x1="1088.1" y1="91.8" x2="1157.7" y2="91.8" stroke="#000" stroke-width="3.6"/>
<line x1="1088.1" y1="158.7" x2="1157.7" y2="158.7" stroke="#000" stroke-width="3.6" stroke-dasharray="11.1 3.85"/>
<line x1="1088.1" y1="225.2" x2="1157.7" y2="225.2" stroke="#000" stroke-width="3.6" stroke-dasharray="3.6 3.88"/>
<line x1="1088.1" y1="291.7" x2="1157.7" y2="291.7" stroke="#000" stroke-width="3.6" stroke-dasharray="11.1 3.85 3.6 3.88"/>
<line x1="1088.1" y1="360.6" x2="1157.7" y2="360.6" stroke="#ff0000" stroke-width="3.6"/>
<text id="stat" x="818.00" y="338.2" font-size="34.3" textLength="61.80" lengthAdjust="spacingAndGlyphs">Stat.</text>
<text id="syst" x="940.63" y="338.2" font-size="34.3" textLength="66.12" lengthAdjust="spacingAndGlyphs">Syst.</text>
<text id="t1" x="480.57" y="29.7" font-size="34.3" textLength="115.06" lengthAdjust="spacingAndGlyphs">Timelike</text>
<text id="t2" x="605.54" y="29.7" font-size="34.3" textLength="32.98" lengthAdjust="spacingAndGlyphs">s=</text>
<text id="t3" x="639.02" y="29.7" font-size="34.3" class="i">E</text>
<text id="t4" x="659.90" y="18.3" font-size="25.0">2</text>
<text id="y0.02" x="62.68" y="86.3" font-size="34.3" textLength="60.74" lengthAdjust="spacingAndGlyphs">0.02</text>
<text id="y0.0" x="62.65" y="149.1" font-size="34.3" textLength="60.32" lengthAdjust="spacingAndGlyphs">0.00</text>
<text id="y-0.02" x="62.68" y="211.6" font-size="34.3" textLength="60.74" lengthAdjust="spacingAndGlyphs">0.02</text>
<text id="m-0.02" x="41.62" y="214.4" font-size="33.5">−</text>
<text id="y-0.04" x="62.77" y="274.4" font-size="34.3" textLength="59.40" lengthAdjust="spacingAndGlyphs">0.04</text>
<text id="m-0.04" x="41.62" y="277.2" font-size="33.5">−</text>
<text id="y-0.06" x="62.87" y="337.1" font-size="34.3" textLength="59.87" lengthAdjust="spacingAndGlyphs">0.06</text>
<text id="m-0.06" x="41.62" y="339.9" font-size="33.5">−</text>
<text id="x0" x="120.13" y="392.9" font-size="34.3">0</text>
<text id="x200" x="280.78" y="392.9" font-size="34.3" textLength="52.59" lengthAdjust="spacingAndGlyphs">200</text>
<text id="x400" x="460.98" y="392.9" font-size="34.3" textLength="51.46" lengthAdjust="spacingAndGlyphs">400</text>
<text id="x600" x="639.52" y="392.9" font-size="34.3" textLength="51.53" lengthAdjust="spacingAndGlyphs">600</text>
<text id="x800" x="818.96" y="392.9" font-size="34.3" textLength="51.29" lengthAdjust="spacingAndGlyphs">800</text>
<text id="x1000" x="990.76" y="392.9" font-size="34.3" textLength="67.66" lengthAdjust="spacingAndGlyphs">1000</text>
<text id="xl" x="520.41" y="439.1" font-size="34.3" textLength="111.00" lengthAdjust="spacingAndGlyphs">E [GeV]</text>
<text id="l0p" x="1176.67" y="101.8" font-size="33.5" textLength="37.21" lengthAdjust="spacingAndGlyphs">Re</text>
<text id="l0m" x="1224.17" y="101.8" font-size="33.5" class="i">μ</text>
<text id="l0h" x="1227.42" y="101.0" font-size="30.0" class="h">ˆ</text>
<text id="l0t" x="1242.21" y="109.3" font-size="21.5" class="i">t</text>
<text id="l0s" x="1241.51" y="87.4" font-size="20.8">3</text>
<text id="l0b" x="1257.01" y="87.4" font-size="21.0" class="i">b</text>
<text id="l1p" x="1176.47" y="169.1" font-size="33.5" textLength="36.76" lengthAdjust="spacingAndGlyphs">Im</text>
<text id="l1m" x="1224.17" y="169.1" font-size="33.5" class="i">μ</text>
<text id="l1h" x="1227.42" y="168.3" font-size="30.0" class="h">ˆ</text>
<text id="l1t" x="1242.21" y="176.6" font-size="21.5" class="i">t</text>
<text id="l1s" x="1241.51" y="154.7" font-size="20.8">3</text>
<text id="l1b" x="1257.01" y="154.7" font-size="21.0" class="i">b</text>
<text id="l2p" x="1176.67" y="235.2" font-size="33.5" textLength="37.21" lengthAdjust="spacingAndGlyphs">Re</text>
<text id="l2m" x="1224.17" y="235.2" font-size="33.5" class="i">μ</text>
<text id="l2h" x="1227.42" y="234.4" font-size="30.0" class="h">ˆ</text>
<text id="l2t" x="1242.21" y="242.7" font-size="21.5" class="i">t</text>
<text id="l2s" x="1241.49" y="220.8" font-size="20.8">4</text>
<text id="l2b" x="1257.01" y="220.8" font-size="21.0" class="i">b</text>
<text id="l3p" x="1176.47" y="302.4" font-size="33.5" textLength="36.76" lengthAdjust="spacingAndGlyphs">Im</text>
<text id="l3m" x="1224.17" y="302.4" font-size="33.5" class="i">μ</text>
<text id="l3h" x="1227.42" y="301.6" font-size="30.0" class="h">ˆ</text>
<text id="l3t" x="1242.21" y="309.9" font-size="21.5" class="i">t</text>
<text id="l3s" x="1241.49" y="288.0" font-size="20.8">4</text>
<text id="l3b" x="1257.01" y="288.0" font-size="21.0" class="i">b</text>
<text id="l4m" x="1178.82" y="369.8" font-size="33.5" class="i">μ</text>
<text id="l4h" x="1181.45" y="369.0" font-size="30.0" class="h">ˆ</text>
<text id="l4t" x="1196.96" y="375.0" font-size="21.5" class="i">t</text>
<text id="l4s" x="1195.81" y="353.3" font-size="22.0" textLength="39.01" lengthAdjust="spacingAndGlyphs">Exp</text>
<g transform="translate(25.9,214.3) rotate(-90)"><text x="0" y="0" font-size="33.5" class="i">μ</text><text x="4.8" y="-1.8" font-size="30.0" class="h">ˆ</text><text x="19.5" y="6.5" font-size="21.5" class="i">t</text></g>
</svg></body></html>
